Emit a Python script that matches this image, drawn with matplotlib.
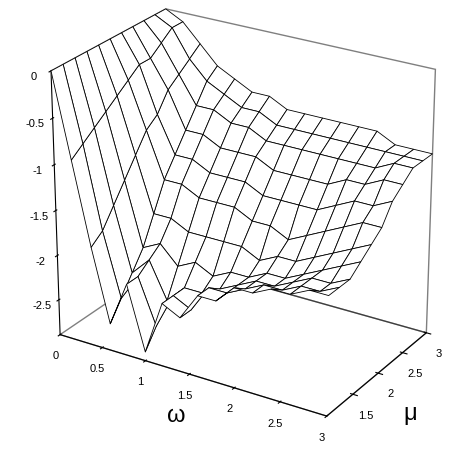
import numpy as np
import matplotlib
matplotlib.use("Agg")
import matplotlib.pyplot as plt

plt.rcParams['font.family'] = ['Liberation Sans', 'DejaVu Sans']

omega = [0, 0.2, 0.4, 0.6, 0.8, 1.0, 1.2, 1.4, 1.6, 1.8, 2.0, 2.2, 2.4, 2.6, 2.8, 3.0]
mu = [1.0, 1.2, 1.4, 1.6, 1.8, 2.0, 2.2, 2.4, 2.6, 2.8, 3.0]
Z = [
    [0, -0.9, -1.8, -2.6, -2.1, -2.8, -2.2, -2.3, -2.0, -2.0, -1.8, -1.8, -1.7, -1.7, -1.6, -1.6],
    [0, -0.8, -1.7, -2.4, -2.1, -2.6, -2.2, -2.3, -2.0, -2.0, -1.9, -1.8, -1.8, -1.7, -1.7, -1.6],
    [0, -0.7, -1.5, -2.2, -2.0, -2.4, -2.2, -2.2, -2.1, -2.0, -1.9, -1.9, -1.8, -1.7, -1.7, -1.6],
    [0, -0.6, -1.3, -2.0, -1.9, -2.1, -2.0, -2.1, -2.0, -2.0, -1.9, -1.9, -1.8, -1.7, -1.6, -1.5],
    [0, -0.5, -1.1, -1.7, -1.7, -1.8, -1.8, -1.8, -1.8, -1.9, -1.8, -1.8, -1.7, -1.6, -1.5, -1.4],
    [0, -0.4, -0.9, -1.4, -1.4, -1.5, -1.5, -1.5, -1.6, -1.6, -1.7, -1.6, -1.5, -1.4, -1.3, -1.3],
    [0, -0.3, -0.8, -1.2, -1.2, -1.3, -1.3, -1.3, -1.4, -1.4, -1.4, -1.4, -1.3, -1.2, -1.2, -1.1],
    [0, -0.3, -0.6, -1.0, -1.0, -1.1, -1.1, -1.1, -1.2, -1.2, -1.2, -1.2, -1.1, -1.1, -1.0, -1.0],
    [0, -0.2, -0.5, -0.8, -0.8, -0.9, -0.9, -1.0, -1.0, -1.0, -1.0, -1.0, -1.0, -1.0, -0.9, -0.9],
    [0, -0.1, -0.4, -0.6, -0.7, -0.8, -0.8, -0.9, -0.9, -0.9, -0.9, -0.9, -0.9, -0.9, -0.9, -0.9],
    [0, -0.1, -0.3, -0.5, -0.6, -0.7, -0.7, -0.8, -0.8, -0.8, -0.8, -0.8, -0.8, -0.9, -0.9, -0.9],
]

X, Y = np.meshgrid(omega, mu)
Zarr = np.array(Z)

fig = plt.figure(figsize=(4.74, 4.52), dpi=100)
ax = fig.add_axes([-0.03, 0.01, 1.06, 1.04], projection="3d")
ax.set_box_aspect((1.25, 0.8, 1.15), zoom=0.98)
ax.plot_surface(X, Y, Zarr, color="white", edgecolor="black", linewidth=0.6, shade=False)
ax.set_xlim(0, 3)
ax.set_ylim(1, 3)
ax.set_zlim(-2.9, 0.0)
ax.view_init(elev=25, azim=-58)
for a in (ax.xaxis, ax.yaxis, ax.zaxis):
    a.pane.fill = False
    a.pane.set_edgecolor("black")
    a.line.set_color("black")
ax.grid(False)
ax.zaxis.set_ticks_position("lower")
ax.zaxis.set_label_position("lower")
ax.set_xticks([0, 0.5, 1, 1.5, 2, 2.5, 3])
ax.set_xticklabels(["0", "0.5", "1", "1.5", "2", "2.5", "3"])
ax.set_yticks([1.5, 2, 2.5, 3])
ax.set_yticklabels(["1.5", "2", "2.5", "3"])
ax.set_zticks([-2.5, -2, -1.5, -1, -0.5, 0])
ax.set_zticklabels(["-2.5", "-2", "-1.5", "-1", "-0.5", "0"])
ax.tick_params(labelsize=8, pad=0)
ax.set_xlabel("ω", fontsize=17, labelpad=0)
ax.set_ylabel("μ", fontsize=17, labelpad=0)
fig.savefig("out.png", dpi=100)
